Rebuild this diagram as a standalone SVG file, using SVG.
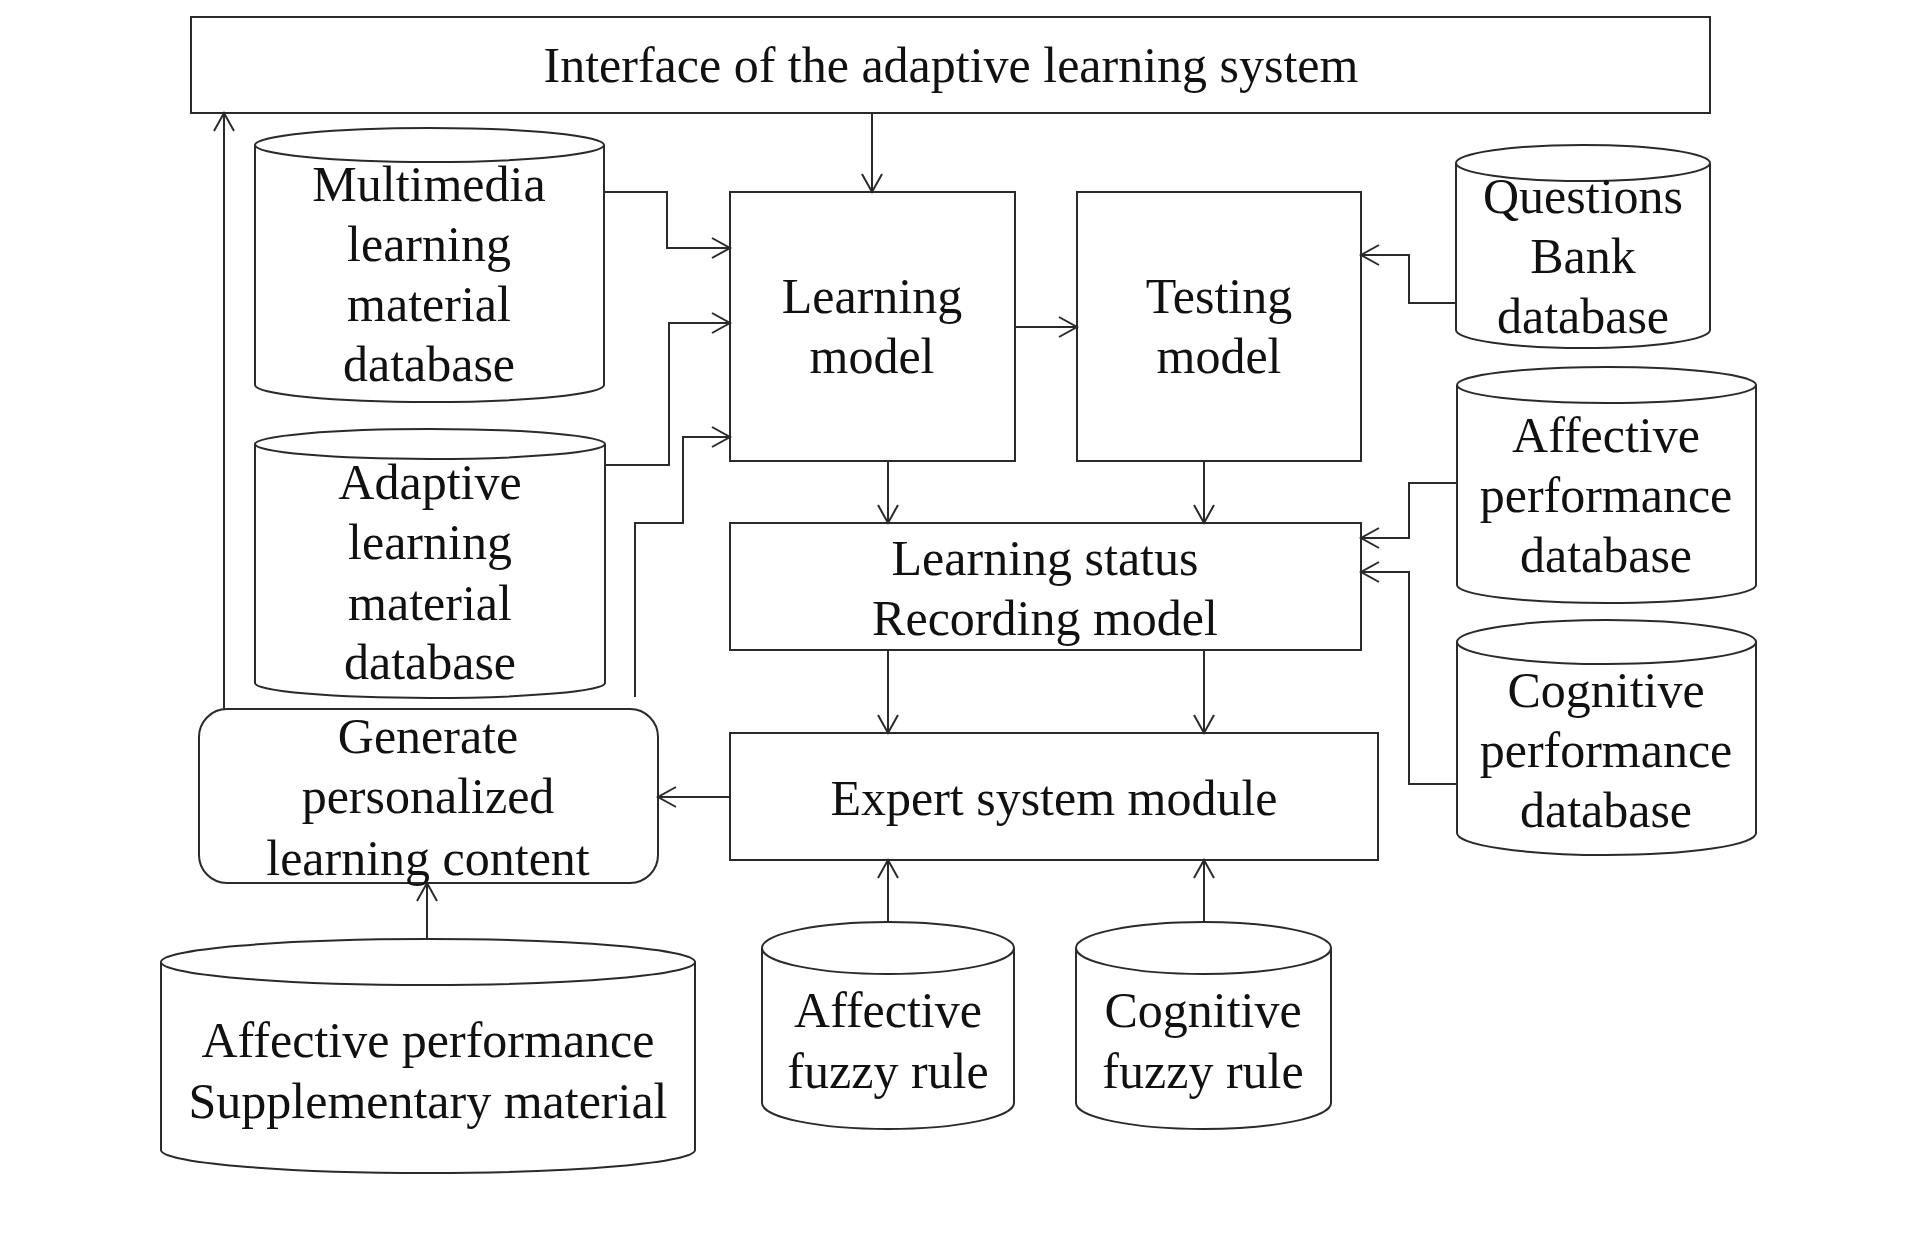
<svg xmlns="http://www.w3.org/2000/svg" width="1908" height="1256" viewBox="0 0 1908 1256">
<defs>
<style>
.box{fill:#fff;stroke:#2a2a2a;stroke-width:2}
.cyl{fill:#fff;stroke:#2a2a2a;stroke-width:2}
.ln{fill:none;stroke:#2a2a2a;stroke-width:2}
text{font-family:"Liberation Serif","Times New Roman",serif;font-size:50px;fill:#111;text-anchor:middle}
</style>
<marker id="ah" markerUnits="userSpaceOnUse" markerWidth="24" markerHeight="24" refX="20" refY="12" orient="auto">
<path d="M2,2 L20,12 L2,22" fill="none" stroke="#2a2a2a" stroke-width="2"/>
</marker>
</defs>
<rect width="1908" height="1256" fill="#fff"/>

<g id="interface">
<rect class="box" x="191" y="17" width="1519" height="96"/>
<text x="951" y="82">Interface of the adaptive learning system</text>
</g>

<g id="multimedia-db">
<path class="cyl" d="M255,145 V385 A174.5,17 0 0 0 604,385 V145"/>
<ellipse class="cyl" cx="429.5" cy="145" rx="174.5" ry="17"/>
<text x="429" y="201">Multimedia</text>
<text x="429" y="261">learning</text>
<text x="429" y="321">material</text>
<text x="429" y="381">database</text>
</g>

<g id="adaptive-db">
<path class="cyl" d="M255,444 V683 A175,15 0 0 0 605,683 V444"/>
<ellipse class="cyl" cx="430" cy="444" rx="175" ry="15"/>
<text x="430" y="499">Adaptive</text>
<text x="430" y="559">learning</text>
<text x="430" y="620">material</text>
<text x="430" y="679">database</text>
</g>

<g id="learning-model">
<rect class="box" x="730" y="192" width="285" height="269"/>
<text x="872" y="313">Learning</text>
<text x="872" y="373">model</text>
</g>

<g id="testing-model">
<rect class="box" x="1077" y="192" width="284" height="269"/>
<text x="1219" y="313">Testing</text>
<text x="1219" y="373">model</text>
</g>

<g id="questions-db">
<path class="cyl" d="M1456,163 V330 A127,18 0 0 0 1710,330 V163"/>
<ellipse class="cyl" cx="1583" cy="163" rx="127" ry="18"/>
<text x="1583" y="213">Questions</text>
<text x="1583" y="273">Bank</text>
<text x="1583" y="333">database</text>
</g>

<g id="affective-performance-db">
<path class="cyl" d="M1457,385 V585 A149.5,18 0 0 0 1756,585 V385"/>
<ellipse class="cyl" cx="1606.5" cy="385" rx="149.5" ry="18"/>
<text x="1606" y="452">Affective</text>
<text x="1606" y="512">performance</text>
<text x="1606" y="572">database</text>
</g>

<g id="cognitive-performance-db">
<path class="cyl" d="M1457,642 V833 A149.5,22 0 0 0 1756,833 V642"/>
<ellipse class="cyl" cx="1606.5" cy="642" rx="149.5" ry="22"/>
<text x="1606" y="707">Cognitive</text>
<text x="1606" y="767">performance</text>
<text x="1606" y="827">database</text>
</g>

<g id="learning-status">
<rect class="box" x="730" y="523" width="631" height="127"/>
<text x="1045" y="575">Learning status</text>
<text x="1045" y="635">Recording model</text>
</g>

<g id="expert-system">
<rect class="box" x="730" y="733" width="648" height="127"/>
<text x="1054" y="815">Expert system module</text>
</g>

<g id="generate-content">
<rect class="box" x="199" y="709" width="459" height="174" rx="28" ry="28"/>
<text x="428" y="753">Generate</text>
<text x="428" y="813">personalized</text>
<text x="428" y="875">learning content</text>
</g>

<g id="supplementary-db">
<path class="cyl" d="M161,962 V1150 A267,23 0 0 0 695,1150 V962"/>
<ellipse class="cyl" cx="428" cy="962" rx="267" ry="23"/>
<text x="428" y="1057">Affective performance</text>
<text x="428" y="1118">Supplementary material</text>
</g>

<g id="affective-fuzzy-rule">
<path class="cyl" d="M762,948 V1103 A126,26 0 0 0 1014,1103 V948"/>
<ellipse class="cyl" cx="888" cy="948" rx="126" ry="26"/>
<text x="888" y="1027">Affective</text>
<text x="888" y="1088">fuzzy rule</text>
</g>

<g id="cognitive-fuzzy-rule">
<path class="cyl" d="M1076,948 V1103 A127.5,26 0 0 0 1331,1103 V948"/>
<ellipse class="cyl" cx="1203.5" cy="948" rx="127.5" ry="26"/>
<text x="1203" y="1027">Cognitive</text>
<text x="1203" y="1088">fuzzy rule</text>
</g>

<g id="connectors">
<path class="ln" d="M872,113 V192" marker-end="url(#ah)"/>
<path class="ln" d="M224,709 V113" marker-end="url(#ah)"/>
<path class="ln" d="M604,192 H667 V248 H730" marker-end="url(#ah)"/>
<path class="ln" d="M605,465 H669 V323 H730" marker-end="url(#ah)"/>
<path class="ln" d="M635,697 V523 H683 V437 H730" marker-end="url(#ah)"/>
<path class="ln" d="M1015,327 H1077" marker-end="url(#ah)"/>
<path class="ln" d="M1456,303 H1409 V255 H1361" marker-end="url(#ah)"/>
<path class="ln" d="M888,461 V523" marker-end="url(#ah)"/>
<path class="ln" d="M1204,461 V523" marker-end="url(#ah)"/>
<path class="ln" d="M1457,483 H1409 V538 H1361" marker-end="url(#ah)"/>
<path class="ln" d="M1457,784 H1409 V572 H1361" marker-end="url(#ah)"/>
<path class="ln" d="M888,650 V733" marker-end="url(#ah)"/>
<path class="ln" d="M1204,650 V733" marker-end="url(#ah)"/>
<path class="ln" d="M730,797 H658" marker-end="url(#ah)"/>
<path class="ln" d="M427,939 V883" marker-end="url(#ah)"/>
<path class="ln" d="M888,922 V860" marker-end="url(#ah)"/>
<path class="ln" d="M1204,922 V860" marker-end="url(#ah)"/>
</g>
</svg>
